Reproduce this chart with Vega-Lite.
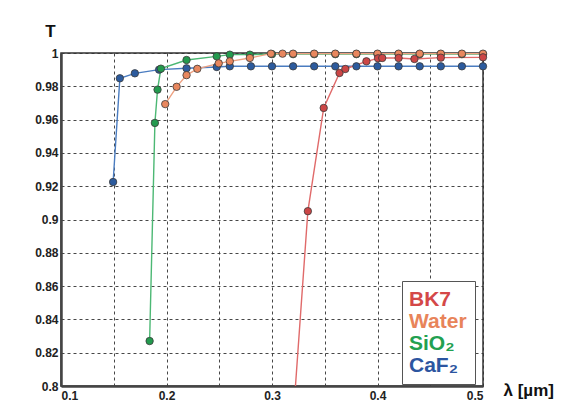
{
  "$schema": "https://vega.github.io/schema/vega-lite/v6.json",
  "autosize": {"type": "none"},
  "width": 422,
  "height": 333,
  "padding": {"left": 61, "top": 53, "right": 86, "bottom": 24},
  "background": "white",
  "config": {
    "view": {"stroke": "#333", "strokeWidth": 1.5},
    "font": "Liberation Sans",
    "axis": {
      "labelFont": "Liberation Sans",
      "labelFontWeight": "bold",
      "labelFontSize": 12,
      "labelColor": "#222",
      "titleFont": "Liberation Sans",
      "titleFontWeight": "bold",
      "titleColor": "#111",
      "domainColor": "#444",
      "domainWidth": 2.5,
      "ticks": false,
      "grid": true,
      "gridColor": "#333",
      "gridDash": [3, 3],
      "gridWidth": 1,
      "gridOpacity": 0.9
    }
  },
  "data": {
    "values": [
      {"m": "CaF₂", "x": 0.1494, "T": 0.9225},
      {"m": "CaF₂", "x": 0.1558, "T": 0.9848},
      {"m": "CaF₂", "x": 0.17, "T": 0.9878},
      {"m": "CaF₂", "x": 0.193, "T": 0.99},
      {"m": "CaF₂", "x": 0.219, "T": 0.9908},
      {"m": "CaF₂", "x": 0.2476, "T": 0.9916},
      {"m": "CaF₂", "x": 0.26, "T": 0.992},
      {"m": "CaF₂", "x": 0.28, "T": 0.992},
      {"m": "CaF₂", "x": 0.3, "T": 0.992},
      {"m": "CaF₂", "x": 0.32, "T": 0.992},
      {"m": "CaF₂", "x": 0.34, "T": 0.992},
      {"m": "CaF₂", "x": 0.36, "T": 0.992},
      {"m": "CaF₂", "x": 0.38, "T": 0.992},
      {"m": "CaF₂", "x": 0.4, "T": 0.992},
      {"m": "CaF₂", "x": 0.42, "T": 0.992},
      {"m": "CaF₂", "x": 0.44, "T": 0.992},
      {"m": "CaF₂", "x": 0.46, "T": 0.992},
      {"m": "CaF₂", "x": 0.48, "T": 0.992},
      {"m": "CaF₂", "x": 0.5, "T": 0.992},
      {"m": "SiO₂", "x": 0.184, "T": 0.827},
      {"m": "SiO₂", "x": 0.189, "T": 0.958},
      {"m": "SiO₂", "x": 0.1915, "T": 0.978},
      {"m": "SiO₂", "x": 0.1947, "T": 0.9906},
      {"m": "SiO₂", "x": 0.219, "T": 0.9958},
      {"m": "SiO₂", "x": 0.2476, "T": 0.998},
      {"m": "SiO₂", "x": 0.26, "T": 0.999},
      {"m": "SiO₂", "x": 0.279, "T": 0.999},
      {"m": "SiO₂", "x": 0.3, "T": 0.9993},
      {"m": "SiO₂", "x": 0.32, "T": 0.9993},
      {"m": "SiO₂", "x": 0.34, "T": 0.9993},
      {"m": "SiO₂", "x": 0.36, "T": 0.9993},
      {"m": "SiO₂", "x": 0.38, "T": 0.9993},
      {"m": "SiO₂", "x": 0.4, "T": 0.9993},
      {"m": "SiO₂", "x": 0.42, "T": 0.9993},
      {"m": "SiO₂", "x": 0.44, "T": 0.9993},
      {"m": "SiO₂", "x": 0.46, "T": 0.9993},
      {"m": "SiO₂", "x": 0.48, "T": 0.9993},
      {"m": "SiO₂", "x": 0.5, "T": 0.9993},
      {"m": "Water", "x": 0.1988, "T": 0.9693},
      {"m": "Water", "x": 0.2096, "T": 0.9797},
      {"m": "Water", "x": 0.219, "T": 0.9867},
      {"m": "Water", "x": 0.2292, "T": 0.9905},
      {"m": "Water", "x": 0.2495, "T": 0.9938},
      {"m": "Water", "x": 0.26, "T": 0.995},
      {"m": "Water", "x": 0.279, "T": 0.997},
      {"m": "Water", "x": 0.299, "T": 0.9996},
      {"m": "Water", "x": 0.31, "T": 0.9996},
      {"m": "Water", "x": 0.32, "T": 0.9996},
      {"m": "Water", "x": 0.34, "T": 0.9996},
      {"m": "Water", "x": 0.36, "T": 0.9996},
      {"m": "Water", "x": 0.38, "T": 0.9996},
      {"m": "Water", "x": 0.4, "T": 0.9996},
      {"m": "Water", "x": 0.42, "T": 0.9996},
      {"m": "Water", "x": 0.44, "T": 0.9996},
      {"m": "Water", "x": 0.46, "T": 0.9996},
      {"m": "Water", "x": 0.48, "T": 0.9996},
      {"m": "Water", "x": 0.5, "T": 0.9996},
      {"m": "BK7", "x": 0.32, "T": 0.78},
      {"m": "BK7", "x": 0.334, "T": 0.905},
      {"m": "BK7", "x": 0.349, "T": 0.967},
      {"m": "BK7", "x": 0.364, "T": 0.988},
      {"m": "BK7", "x": 0.3695, "T": 0.9904},
      {"m": "BK7", "x": 0.3895, "T": 0.995},
      {"m": "BK7", "x": 0.4005, "T": 0.9968},
      {"m": "BK7", "x": 0.4045, "T": 0.997},
      {"m": "BK7", "x": 0.42, "T": 0.997},
      {"m": "BK7", "x": 0.435, "T": 0.9964},
      {"m": "BK7", "x": 0.46, "T": 0.9972},
      {"m": "BK7", "x": 0.5, "T": 0.9974}
    ]
  },
  "encoding": {
    "x": {
      "field": "x",
      "type": "quantitative",
      "scale": {"domain": [0.1, 0.5], "nice": false, "zero": false},
      "axis": {
        "values": [0.1, 0.15, 0.2, 0.25, 0.3, 0.35, 0.4, 0.45, 0.5],
        "labelExpr": "abs(datum.value * 10 - round(datum.value * 10)) < 0.01 ? format(datum.value, '~g') : ''",
        "labelPadding": 4,
        "title": "λ [µm]",
        "titleFontSize": 17,
        "titleAlign": "left",
        "titleBaseline": "alphabetic",
        "titleX": 442,
        "titleY": 9
      }
    },
    "y": {
      "field": "T",
      "type": "quantitative",
      "scale": {"domain": [0.8, 1], "nice": false, "zero": false},
      "axis": {
        "values": [0.8, 0.82, 0.84, 0.86, 0.88, 0.9, 0.92, 0.94, 0.96, 0.98, 1],
        "format": "~g",
        "labelPadding": 3,
        "title": "T",
        "titleFontSize": 17,
        "titleAngle": 0,
        "titleAlign": "center",
        "titleBaseline": "alphabetic",
        "titleX": -11,
        "titleY": -17
      }
    }
  },
  "layer": [
    {
      "mark": {"type": "line", "clip": true, "strokeWidth": 1.4},
      "encoding": {
        "stroke": {
          "field": "m",
          "type": "nominal",
          "scale": {
            "domain": ["BK7", "Water", "SiO₂", "CaF₂"],
            "range": ["#e06a6a", "#eea282", "#4cb874", "#4a7cc0"]
          },
          "legend": null
        }
      }
    },
    {
      "transform": [{"filter": "datum.T >= 0.8"}],
      "mark": {"type": "point", "filled": true, "size": 55, "opacity": 1, "stroke": "#3a3a3a", "strokeWidth": 0.8},
      "encoding": {
        "fill": {
          "field": "m",
          "type": "nominal",
          "scale": {
            "domain": ["BK7", "Water", "SiO₂", "CaF₂"],
            "range": ["#cc4646", "#e8875e", "#239a4e", "#2c5b9e"]
          },
          "legend": {
            "title": null,
            "orient": "none",
            "legendX": 341,
            "legendY": 228,
            "padding": 8,
            "rowPadding": 0,
            "strokeColor": "#555",
            "fillColor": "white",
            "symbolType": "circle",
            "symbolSize": 0,
            "symbolOpacity": 0,
            "symbolStrokeWidth": 0,
            "labelOffset": -22,
            "labelFont": "Liberation Sans",
            "labelFontSize": 21,
            "labelFontWeight": "bold",
            "labelColor": {"expr": "datum.value === 'BK7' ? '#d44848' : datum.value === 'Water' ? '#e8845a' : datum.value === 'SiO₂' ? '#22a050' : '#2c55a0'"}
          }
        }
      }
    }
  ],
  "resolve": {"legend": {"fill": "independent", "stroke": "independent"}}
}
